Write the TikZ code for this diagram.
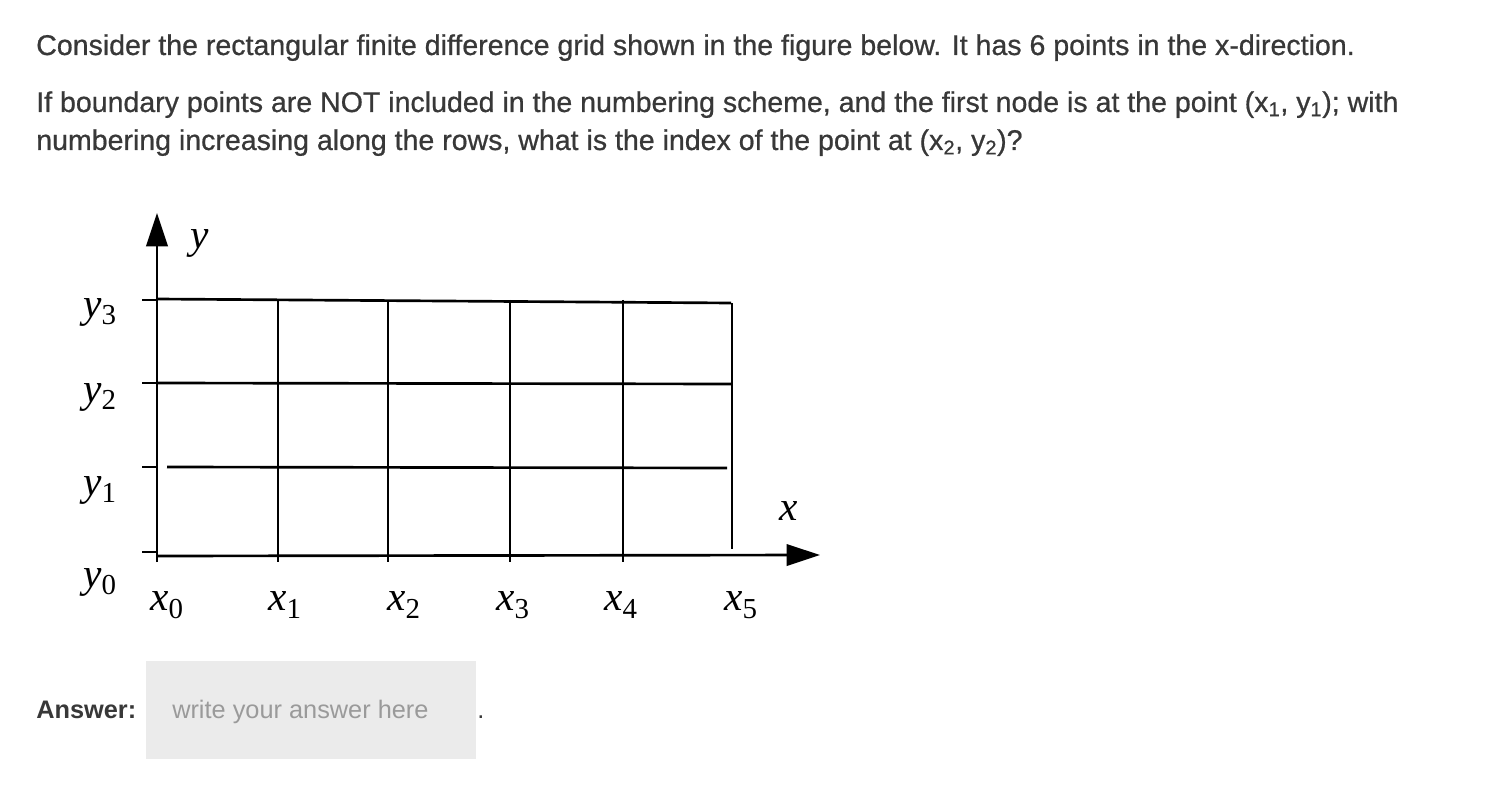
\documentclass[tikz,border=0pt]{standalone}
\usepackage{fontspec}
\setmainfont{Liberation Sans}
\newfontfamily\medfont{Liberation Sans}[FakeBold=0.7]
\newfontfamily\tmsfont{Liberation Serif}
\usetikzlibrary{arrows.meta}
\definecolor{qtext}{HTML}{383838}
\definecolor{boxgray}{HTML}{EBEBEB}
\definecolor{hintgray}{HTML}{9A9A9A}
\tikzset{
  qline/.style={anchor=base west,text=qtext,inner sep=0pt,font=\medfont\fontsize{21.4}{25}\selectfont},
  aline/.style={anchor=base west,text=qtext,inner sep=0pt,font=\fontsize{19}{23}\selectfont},
  glbl/.style={inner sep=0pt,font=\tmsfont\fontsize{31}{35}\selectfont},
  gline/.style={line width=2pt},
  axarrow/.style={line width=2pt,-{Triangle[length=25pt,width=16pt]}},
}
\begin{document}
\begin{tikzpicture}[x=0.75pt,y=-0.75pt]
\useasboundingbox(0,0)rectangle(1486,802);
% question text
\node[qline](q1)at(36,55){Consider the rectangular finite difference grid shown in the figure below. It has 6 points in the x-direction.};
\node[qline](q2)at(36,112){If boundary points are NOT included in the numbering scheme, and the first node is at the point (x\textsubscript{1}, y\textsubscript{1}); with};
\node[qline](q3)at(36,150){numbering increasing along the rows, what is the index of the point at (x\textsubscript{2}, y\textsubscript{2})?};
% grid
\pgfmathsetmacro{\gleft}{157}
\pgfmathsetmacro{\gbot}{556}
\draw[gline](\gleft,299)--(731,303);
\draw[gline](\gleft,383)--(731,384);
\draw[gline](167,467)--(727,468);
\foreach \gx in {278,388,510,623}{\draw[gline](\gx,300)--(\gx,562);}
\draw[gline](732,303)--(732,549);
\draw[gline](\gleft,562)--(\gleft,299);
\foreach \gy in {300,383,467,552}{\draw[gline](142,\gy)--(\gleft,\gy);}
% axes
\draw[axarrow](\gleft,300)--(\gleft,213);
\draw[axarrow](\gleft,\gbot)--(820,555);
\node[glbl](ylab)at(200,243){\itshape y};
\node[glbl](xlab)at(789,511){\itshape x};
\foreach \ky/\ylb in {312/3,397/2,490/1,582/0}{\node[glbl]at(100,\ky){\itshape y\textsubscript{\upshape\ylb}};}
\foreach \kx/\xlb in {167/0,285/1,404/2,513/3,621/4,741/5}{\node[glbl]at(\kx,605){\itshape x\textsubscript{\upshape\xlb}};}
% answer field
\fill[boxgray](146,661)rectangle(476,759);
\node[aline,font=\bfseries\fontsize{19}{23}\selectfont](ans)at(36,718){Answer:};
\node[aline,text=hintgray](hint)at(172,718){write your answer here};
\node[aline](dot)at(477,718){.};
\end{tikzpicture}
\end{document}
